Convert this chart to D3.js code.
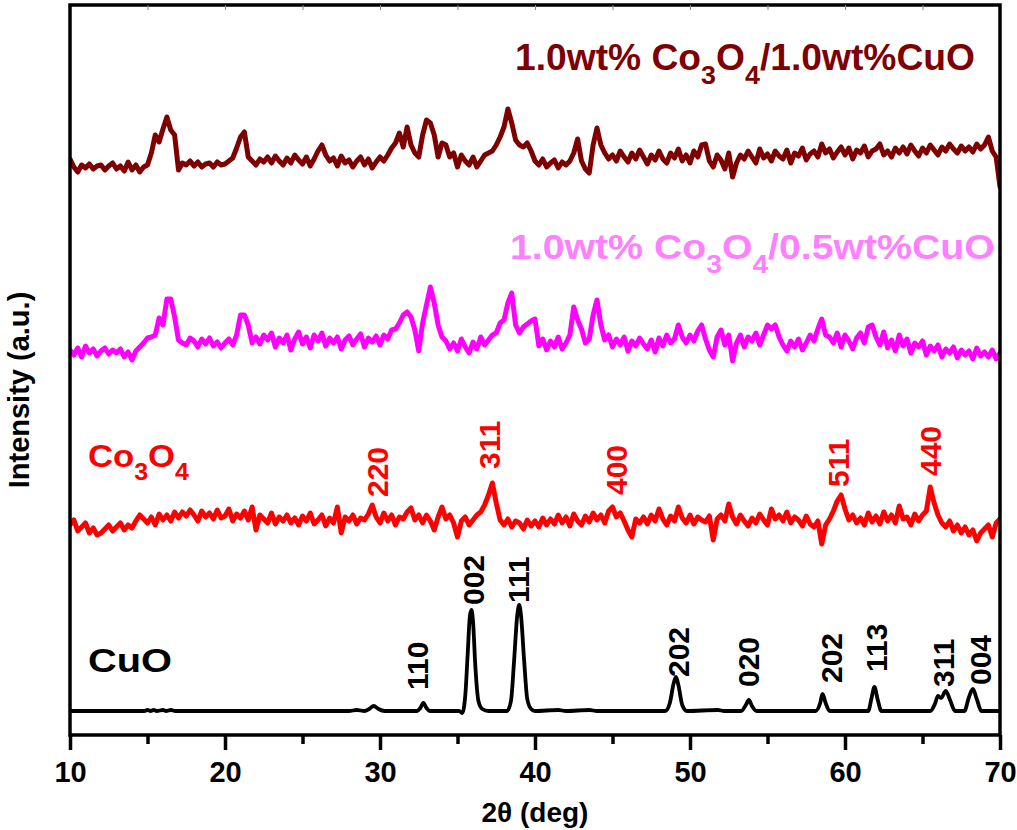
<!DOCTYPE html>
<html>
<head>
<meta charset="utf-8">
<script src="https://cdn.jsdelivr.net/npm/d3@7"></script>
<style>
  body { margin: 0; background: #fff; }
  svg { display: block; font-family: "Liberation Sans", Arial, sans-serif; font-weight: bold; }
</style>
</head>
<body>
<svg id="chart" width="1017" height="830"></svg>
<script>
// XRD patterns of CuO, Co3O4 and the two Co3O4/CuO composites, stacked with offsets.

// Scan grid for the three noisy patterns (2θ start, step in degrees)
const SCAN_START = 10;
const SCAN_STEP = 0.25;

// 1.0wt% Co3O4 / 1.0wt% CuO (a.u. above its own baseline)
const hybrid10 = [
  16, 8, 3, 10,   7, 11, 6, 9,    10, 5, 9, 12,   6, 9, 4, 13,    5, 10, 3, 8,
  10, 22, 40, 33, 46, 58, 45, 40, 5, 12, 10, 14,  9, 13, 8, 11,   12, 8, 13, 10,
  11, 14, 17, 27, 38, 43, 18, 14, 10, 16, 13, 18, 12, 19, 14, 10, 17, 12, 20, 15,
  11, 18, 9, 16,  24, 30, 20, 14, 17, 9, 19, 12,  15, 8, 14, 18,  10, 16, 7, 13,
  18, 14, 20, 27, 32, 42, 28, 48, 30, 22, 18, 40, 55, 52, 40, 18, 32, 30, 18, 22,
  8, 20, 14, 10,  18, 8, 14, 20,  22, 24, 30, 38, 48, 66, 52, 35, 30, 28, 32, 24,
  14, 10, 16, 8,  12, 15, 7, 13,  10, 14, 22, 36, 14, 6, 2, 30,   47, 30, 22, 16,
  20, 14, 24, 18, 13, 22, 16, 25, 18, 11, 20, 15, 24, 16, 12, 22, 17, 26, 14, 20,
  12, 24, 18, 30, 31, 14, 8, 20,  15, 6, 22, -2,  12, 20, 16, 24, 18, 12, 26, 17,
  21, 14, 24, 19, 16, 25, 12, 22, 19, 27, 15, 21, 24, 18, 31, 22, 26, 17, 23, 28,
  20, 27, 16, 25, 22, 29, 18, 24, 26, 31, 20, 24, 18, 27, 22, 28, 21, 30, 24, 19,
  27, 22, 30, 25, 20, 28, 24, 31, 26, 22, 29, 24, 28, 23, 31, 26, 30, 38, 24, 18,
  -12
];

// 1.0wt% Co3O4 / 0.5wt% CuO
const hybrid05 = [
  15, 10, 17, 8,  19, 12, 16, 9,  14, 17, 11, 15, 12, 16, 8, 13,  5, 14, 18, 22,
  27, 28, 30, 47, 40, 66, 66, 48, 25, 22, 20, 27, 24, 18, 26, 21, 27, 19, 23, 17,
  22, 26, 20, 30, 50, 50, 40, 22, 28, 21, 30, 25, 32, 18, 27, 22, 30, 15, 26, 33,
  21, 28, 17, 30, 24, 32, 19, 27, 22, 28, 16, 25, 29, 20, 26, 31, 18, 27, 23, 29,
  20, 30, 26, 35, 36, 42, 50, 53, 48, 35, 14, 42, 60, 78, 62, 40, 28, 24, 16, 22,
  14, 26, 18, 12, 23, 16, 28, 20, 25, 30, 32, 42, 45, 62, 72, 40, 32, 38, 41, 44,
  46, 19, 26, 15, 24, 18, 28, 16, 22, 30, 58, 45, 36, 22, 26, 50, 65, 40, 25, 30,
  18, 26, 20, 28, 14, 24, 19, 27, 21, 16, 25, 13, 27, 19, 30, 22, 26, 40, 28, 22,
  30, 24, 34, 40, 26, 15, 8, 28,  35, 20, 30, 4,  22, 30, 18, 28, 24, 32, 20, 30,
  40, 36, 40, 28, 20, 14, 24, 18, 26, 15, 22, 30, 24, 36, 46, 30, 28, 22, 32, 18,
  30, 24, 16, 27, 32, 22, 38, 40, 28, 20, 33, 17, 25, 14, 30, 19, 26, 12, 22, 18,
  24, 10, 19, 14, 20, 8, 16, 12,  18, 7, 15, 10,  14, 6, 17, 9,   13, 8, 15, 6,
  12
];

// Co3O4
const co3o4 = [
  20, 25, 14, 18, 22, 12, 17, 10, 12, 16, 20, 14, 18, 22, 15, 20, 17, 24, 30, 26,
  22, 28, 20, 31, 25, 30, 24, 33, 27, 33, 29, 35, 30, 24, 34, 28, 32, 26, 35, 27,
  29, 36, 24, 31, 27, 34, 25, 38, 15, 30, 26, 22, 32, 21, 28, 24, 30, 22, 27, 20,
  29, 24, 32, 21, 25, 30, 19, 27, 22, 38, 12, 28, 24, 30, 21, 27, 25, 31, 40, 28,
  22, 32, 24, 30, 20, 28, 26, 33, 37, 25, 30, 22, 30, 24, 15, 28, 38, 26, 30, 22,
  8, 24, 28, 20,  25, 30, 33, 40, 50, 62, 42, 25, 20, 26, 18, 24, 22, 16, 25, 19,
  24, 18, 27, 20, 26, 21, 30, 22, 28, 19, 31, 24, 20, 29, 23, 32, 25, 30, 22, 34,
  38, 28, 32, 24, 15, 8, 26, 22,  28, 21, 30, 24, 36, 26, 20, 29, 24, 38, 27, 22,
  30, 21, 28, 25, 23, 29, 5, 26,  30, 24, 41, 28, 21, 30, 24, 19, 27, 22, 31, 25,
  20, 36, 26, 30, 24, 33, 22, 28, 25, 19, 29, 21, 18, 24, 1, 20,  26, 34, 44, 50,
  36, 25, 30, 22, 27, 20, 32, 23, 29, 21, 33, 24, 30, 22, 39, 26, 28, 20, 31, 24,
  30, 34, 58, 42, 30, 22, 18, 24, 14, 20, 12, 18, 10, 15, 4, 12,  16, 20, 8, 22,
  26
];

// CuO: [2θ, intensity]
const cuo = [
  [10, 0], [14.8, 0], [15, 1], [15.2, 0], [15.4, 1], [15.6, 0], [16, 1], [16.2, 0], [16.5, 1], [16.8, 0],
  [28, 0], [28.5, 1], [29, 0], [29.3, 2], [29.6, 5], [29.9, 2], [30.3, 0], [32.4, 0], [32.6, 3], [32.8, 8],
  [33.0, 3], [33.2, 0], [35.1, 0], [35.3, -2], [35.5, 15], [35.65, 55], [35.8, 95], [35.9, 101], [36.0, 90],
  [36.15, 45], [36.35, 10], [36.6, 2], [37, 0], [38.2, 0], [38.45, 10], [38.65, 50], [38.85, 95], [38.98, 106],
  [39.1, 95], [39.3, 50], [39.5, 12], [39.75, 2], [40, 0], [41.5, 1], [42, 0], [43.5, 1], [44, 0],
  [48.4, 0], [48.7, 8], [48.95, 28], [49.1, 34], [49.25, 26], [49.5, 6], [49.8, 0], [51.8, 1], [52.2, 0],
  [53.3, 0], [53.6, 6], [53.8, 11], [54.0, 5], [54.3, 0], [58.1, 0], [58.4, 8], [58.55, 17], [58.75, 8],
  [59.0, 0], [61.5, 0], [61.7, 12], [61.9, 24], [62.1, 12], [62.35, 0], [65.5, 0], [65.8, 7], [66.0, 15],
  [66.2, 13], [66.5, 20], [66.8, 10], [67.1, 0], [67.7, 0], [68.0, 14], [68.25, 22], [68.5, 12], [68.8, 0], [70, 0]
];

// Vertical offsets of the stacked patterns
const offsets = { hybrid10: 560, hybrid05: 370, co3o4: 190, cuo: 24 };

// Reflection labels: position (2θ) and label level (a.u.)
const cuoHkl = ['110', '002', '111', '202', '020', '202', '113', '311', '004'];
const cuoHklPos = [32.4, 36.03, 38.94, 49.28, 53.8, 59.1, 62.0, 66.33, 68.72];
const cuoHklLevel = [45, 130, 132, 58, 48, 52, 63, 48, 50];
const co3o4Hkl = ['220', '311', '400', '511', '440'];
const co3o4HklPos = [29.83, 37.07, 45.27, 59.6, 65.5];
const co3o4HklLevel = [238, 266, 240, 248, 259];

const xTicks = [10, 20, 30, 40, 50, 60, 70];
const xMinorTicks = [15, 25, 35, 45, 55, 65];

const svg = d3.select('#chart');
const x = d3.scaleLinear().domain([10, 70]).range([70, 1000]);
const y = d3.scaleLinear().domain([0, 730]).range([735, 5]);

svg.append('clipPath').attr('id', 'plot-clip')
  .append('rect').attr('x', 70).attr('y', 5).attr('width', 930).attr('height', 730);

// Noisy scans
const scanLine = (offset) => d3.line()
  .x((d, i) => x(SCAN_START + i * SCAN_STEP))
  .y((d) => y(offset + d));

const plot = svg.append('g').attr('clip-path', 'url(#plot-clip)');
[
  { data: hybrid10, offset: offsets.hybrid10, color: '#7f0000' },
  { data: hybrid05, offset: offsets.hybrid05, color: '#ff00ff' },
  { data: co3o4, offset: offsets.co3o4, color: '#ff0000' },
].forEach((s) => {
  plot.append('path')
    .attr('d', scanLine(s.offset)(s.data))
    .attr('fill', 'none')
    .attr('stroke', s.color)
    .attr('stroke-width', 5)
    .attr('stroke-linejoin', 'round')
    .attr('stroke-linecap', 'round');
});

plot.append('path')
  .attr('d', d3.line()
    .x((d) => x(d[0]))
    .y((d) => y(offsets.cuo + d[1]))
    .curve(d3.curveMonotoneX)(cuo))
  .attr('fill', 'none')
  .attr('stroke', '#000')
  .attr('stroke-width', 3.8)
  .attr('stroke-linejoin', 'round');

// Frame
svg.append('rect')
  .attr('x', 70).attr('y', 5).attr('width', 930).attr('height', 730)
  .attr('fill', 'none').attr('stroke', '#000').attr('stroke-width', 3.5);

// Faint inward ticks on the top edge
svg.append('g')
  .attr('transform', 'translate(0,5)')
  .call(d3.axisTop(x).tickValues(d3.range(15, 70, 5)).tickSize(-5).tickFormat(''))
  .call((g) => g.select('.domain').remove())
  .call((g) => g.selectAll('line').attr('stroke', '#888').attr('stroke-width', 1));

// Bottom axis: major + minor ticks
const xAxis = svg.append('g')
  .attr('transform', 'translate(0,735)')
  .call(d3.axisBottom(x).tickValues(xTicks).tickSize(15).tickPadding(11).tickFormat(d3.format('d')));
xAxis.select('.domain').remove();
xAxis.selectAll('line').attr('stroke', '#000').attr('stroke-width', 3.5);
xAxis.selectAll('text').attr('font-size', 29).attr('font-family', null).attr('fill', '#000');

svg.append('g')
  .attr('transform', 'translate(0,735)')
  .call(d3.axisBottom(x).tickValues(xMinorTicks).tickSize(9).tickFormat(''))
  .call((g) => g.select('.domain').remove())
  .call((g) => g.selectAll('line').attr('stroke', '#000').attr('stroke-width', 3.5));

// Axis titles
svg.append('text')
  .attr('x', 535).attr('y', 822)
  .attr('text-anchor', 'middle')
  .attr('font-size', 28)
  .text('2θ (deg)');

svg.append('text')
  .attr('transform', 'translate(29,390) rotate(-90)')
  .attr('text-anchor', 'middle')
  .attr('font-size', 29)
  .text('Intensity (a.u.)');

// Formula-style labels with subscripts, stretched to a target width
function chemText(parts, o) {
  const t = svg.append('text').attr('fill', o.color).attr('font-size', o.size);
  let shifted = false;
  parts.forEach(([str, sub]) => {
    const ts = t.append('tspan').text(str);
    if (sub && !shifted) { ts.attr('font-size', o.size * 0.72).attr('dy', o.size * 0.4); shifted = true; }
    else if (sub) ts.attr('font-size', o.size * 0.72);
    else if (shifted) { ts.attr('dy', -o.size * 0.4); shifted = false; }
  });
  const w = t.node().getComputedTextLength();
  const k = o.width ? o.width / w : 1;
  t.attr('transform', `translate(${o.x},${o.y}) scale(${k},1)`);
}

chemText([['1.0wt% Co'], ['3', true], ['O'], ['4', true], ['/1.0wt%CuO']],
  { x: 515, y: 70, size: 36, color: '#7f0000', width: 460 });
chemText([['1.0wt% Co'], ['3', true], ['O'], ['4', true], ['/0.5wt%CuO']],
  { x: 510, y: 259, size: 36, color: '#ff80ff', width: 485 });
chemText([['Co'], ['3', true], ['O'], ['4', true]],
  { x: 88, y: 467, size: 32, color: '#ff0000', width: 101 });
chemText([['CuO']], { x: 88, y: 672, size: 33, color: '#000', width: 84 });

// Rotated reflection labels
function hklLabels(names, pos, level, color) {
  svg.append('g').selectAll('text')
    .data(names)
    .join('text')
    .attr('transform', (d, i) => `translate(${x(pos[i])},${y(level[i])}) rotate(-90)`)
    .attr('dominant-baseline', 'central')
    .attr('font-size', 30)
    .attr('fill', color)
    .text((d) => d);
}
hklLabels(cuoHkl, cuoHklPos, cuoHklLevel, '#000');
hklLabels(co3o4Hkl, co3o4HklPos, co3o4HklLevel, '#ff0000');
</script>
</body>
</html>
